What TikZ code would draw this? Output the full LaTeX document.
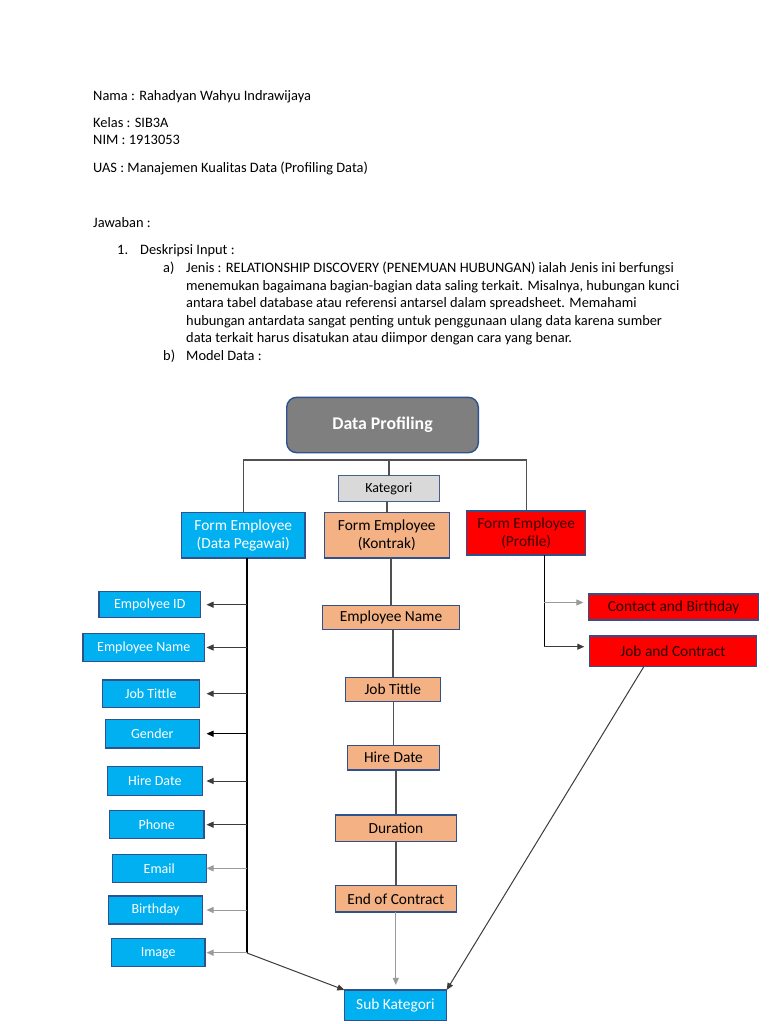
\documentclass[tikz,border=0pt]{standalone}
\usepackage{fontspec}
\setmainfont{Carlito}
\usetikzlibrary{arrows.meta}
\definecolor{cblue}{HTML}{00B0F0}
\definecolor{cbord}{HTML}{2F528F}
\definecolor{corange}{HTML}{F4B183}
\definecolor{cgray}{HTML}{7F7F7F}
\definecolor{clgray}{HTML}{D9D9D9}
\definecolor{cred}{HTML}{FF0000}
\definecolor{cdred}{HTML}{3A0000}
\definecolor{cline}{HTML}{3C3C3C}
\definecolor{ctree}{HTML}{505050}
\definecolor{clight}{HTML}{9A9A9A}
\begin{document}
\begin{tikzpicture}[x=1pt,y=-1pt,
  box/.style={draw=cbord,line width=1.2pt,inner sep=0pt,outer sep=0pt,align=center},
  bluesm/.style={box,fill=cblue,text=white,font=\fontsize{14}{16}\selectfont},
  bluebig/.style={box,fill=cblue,text=white,font=\fontsize{15.4}{19}\selectfont},
  orangebox/.style={box,fill=corange,text=black,font=\fontsize{15.4}{19}\selectfont},
  redbox/.style={box,fill=cred,text=cdred,font=\fontsize{15.4}{19}\selectfont},
  bodytext/.style={anchor=base west,inner sep=0pt,font=\fontsize{14.4}{17.5}\selectfont},
  tree/.style={draw=ctree,line width=1.4pt},
  arr/.style={draw=cline,line width=1pt,-{Triangle[length=7pt,width=6pt]}},
  arrlight/.style={arr,draw=clight}
]
\fill[white] (0,0) rectangle (768,1024);
\useasboundingbox (0,0) rectangle (768,1024);

% ---- body text ----
\node[bodytext] (t1) at (93,100.5) {Nama : Rahadyan Wahyu Indrawijaya};
\node[bodytext] (t2) at (93,128) {Kelas : SIB3A};
\node[bodytext] (t3) at (93,145) {NIM : 1913053};
\node[bodytext] (t4) at (93,172.5) {UAS : Manajemen Kualitas Data (Profiling Data)};
\node[bodytext] (t5) at (93,227) {Jawaban :};
\node[bodytext] (n1) at (117,254) {1.};
\node[bodytext] (t6) at (140,254) {Deskripsi Input :};
\node[bodytext] (na) at (163,272.5) {a)};
\node[bodytext] (l1) at (186,272.5) {Jenis : RELATIONSHIP DISCOVERY (PENEMUAN HUBUNGAN) ialah Jenis ini berfungsi};
\node[bodytext] (l2) at (186,290) {menemukan bagaimana bagian-bagian data saling terkait. Misalnya, hubungan kunci};
\node[bodytext] (l3) at (186,307.5) {antara tabel database atau referensi antarsel dalam spreadsheet. Memahami};
\node[bodytext] (l4) at (186,325) {hubungan antardata sangat penting untuk penggunaan ulang data karena sumber};
\node[bodytext] (l5) at (186,342.5) {data terkait harus disatukan atau diimpor dengan cara yang benar.};
\node[bodytext] (nb) at (163,360) {b)};
\node[bodytext] (l6) at (186,360) {Model Data :};

% ---- diagram nodes ----
\node[box,fill=cgray,text=white,rounded corners=10pt,line width=1.4pt,
      minimum width=191.6pt,minimum height=55.4pt,
      font=\fontsize{17.8}{20}\selectfont\bfseries] (dp) at (382.5,425) {\raisebox{3pt}{Data Profiling}};
\node[box,fill=clgray,draw=cbord!70!gray,text=black,minimum width=101pt,minimum height=26pt,
      font=\fontsize{14}{16}\selectfont] (kat) at (388.8,488.7) {Kategori};

\node[bluebig,minimum width=123.3pt,minimum height=45.7pt] (fl) at (243.3,535.2) {\raisebox{-1pt}{Form Employee}\\(Data Pegawai)};
\node[orangebox,minimum width=125pt,minimum height=45.3pt] (fm) at (386.8,535.3) {\raisebox{-1pt}{Form Employee}\\(Kontrak)};
\node[redbox,minimum width=119pt,minimum height=44pt] (fr) at (526.2,533) {\raisebox{-2pt}{Form Employee}\\\raisebox{-1pt}{(Profile)}};

% left column
\node[bluesm,minimum width=101.3pt,minimum height=26pt] (e1) at (149.7,604.7) {Empolyee ID};
\node[bluesm,minimum width=121.3pt,minimum height=28.4pt] (e2) at (143.7,647.5) {Employee Name};
\node[bluesm,minimum width=97pt,minimum height=27.3pt] (e3) at (150.8,693.7) {Job Tittle};
\node[bluesm,minimum width=94pt,minimum height=28.7pt] (e4) at (152.3,733.7) {Gender};
\node[bluesm,minimum width=95pt,minimum height=28.6pt] (e5) at (154.8,781) {Hire Date};
\node[bluesm,minimum width=94.7pt,minimum height=28pt] (e6) at (156.7,824.7) {Phone};
\node[bluesm,minimum width=94pt,minimum height=28pt] (e7) at (159.3,868.3) {Email};
\node[bluesm,minimum width=94.4pt,minimum height=28pt] (e8) at (155.5,910) {Birthday};
\node[bluesm,minimum width=93.7pt,minimum height=28pt] (e9) at (158.2,952.7) {Image};

% middle column
\node[orangebox,minimum width=137.4pt,minimum height=23.6pt] (m1) at (391,617.5) {\raisebox{-2pt}{Employee Name}};
\node[orangebox,minimum width=95pt,minimum height=24.4pt] (m2) at (392.8,689.5) {Job Tittle};
\node[orangebox,minimum width=91.6pt,minimum height=24.7pt] (m3) at (393.5,757.7) {Hire Date};
\node[orangebox,minimum width=121.4pt,minimum height=26.7pt] (m4) at (396,828.3) {Duration};
\node[orangebox,minimum width=121pt,minimum height=26.7pt] (m5) at (395.8,898.7) {End of Contract};
\node[bluebig,minimum width=102.4pt,minimum height=30.7pt] (sk) at (395.5,1005.3) {Sub Kategori};

% right column
\node[redbox,text=black!85!red,minimum width=170.4pt,minimum height=26pt] (r1) at (673.5,607) {Contact and Birthday};
\node[redbox,text=black!85!red,minimum width=167.4pt,minimum height=30.3pt] (r2) at (673,651.2) {Job and Contract};

% ---- connectors ----
\coordinate (hb) at (0,460);
\draw[tree] (fl.north) -- (fl.north |- hb) -- (fr.north |- hb) -- (fr.north);
\draw[tree] (kat.north |- hb) -- (kat.north);
\draw[tree] (fm.north |- kat.south) -- (fm.north);

% middle chain
\draw[tree] (m1.north |- fm.south) -- (m1.north);
\draw[tree] (m2.north |- m1.south) -- (m2.north);
\draw[tree] (m3.north |- m2.south) -- (m3.north);
\draw[tree] (m4.north |- m3.south) -- (m4.north);
\draw[tree] (m5.north |- m4.south) -- (m5.north);
\draw[arrlight,shorten >=5pt] (m5.south) -- (m5.south |- sk.north);

% left spine
\coordinate (lvEnd) at (247,953);
\coordinate (tipL) at (206.5,0);
\draw[draw=black,line width=1.3pt] (lvEnd |- fl.south) -- (lvEnd);
\draw[arr] (lvEnd |- e1.east) -- (tipL |- e1.east);
\draw[arr] (lvEnd |- e2.east) -- (tipL |- e2.east);
\draw[arr] (lvEnd |- e3.east) -- (tipL |- e3.east);
\draw[arr,draw=black] (lvEnd |- e4.east) -- (tipL |- e4.east);
\draw[arr] (lvEnd |- e5.east) -- (tipL |- e5.east);
\draw[arr] (lvEnd |- e6.east) -- (tipL |- e6.east);
\draw[arrlight] (lvEnd |- e7.east) -- (tipL |- e7.east);
\draw[arrlight] (lvEnd |- e8.east) -- (tipL |- e8.east);
\draw[arrlight] (lvEnd |- e9.east) -- (tipL |- e9.east);
\draw[arr] (lvEnd) -- (sk.north west);

% right spine
\coordinate (rvEnd) at (544.3,646.7);
\coordinate (r1a) at ([yshift=4.5pt]r1.west);
\coordinate (r2a) at ([yshift=4.5pt]r2.west);
\draw[draw=black,line width=1.3pt] (rvEnd |- fr.south) -- (rvEnd);
\draw[arrlight,shorten >=5pt] (rvEnd |- r1a) -- (r1a);
\draw[arr,shorten >=5pt] (rvEnd |- r2a) -- (r2a);
\draw[arr] ([xshift=-29pt]r2.south) -- (sk.north east);
\end{tikzpicture}
\end{document}
